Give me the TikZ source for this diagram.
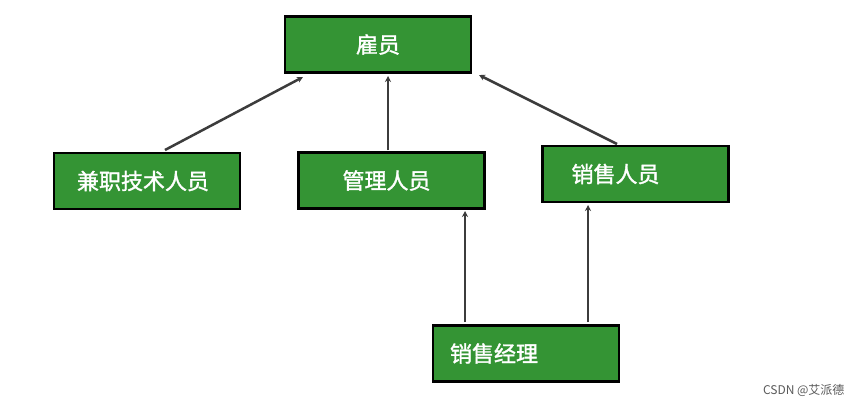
\documentclass[tikz,border=0pt]{standalone}
\usepackage{fontspec}
\newfontfamily\cjk{Noto Sans CJK SC}
\newfontfamily\cjkb[FakeBold=1.5]{Noto Sans CJK SC}
\usetikzlibrary{arrows.meta}
\begin{document}
\begin{tikzpicture}[x=1pt,y=-1pt,
  box/.style={draw=black,line width=2.5pt,fill={rgb,255:red,52;green,148;blue,52},text=white,font=\cjkb\fontsize{22}{22}\selectfont,minimum width=186pt,minimum height=56pt,inner sep=0pt},
  conn/.style={draw={rgb,255:red,60;green,60;blue,60},line width=2.5pt,-{Stealth[length=6pt,width=6pt]}}]
\useasboundingbox[fill=white] (0,0) rectangle (861,408);
\node[box] (gy) at (378,44.5) {雇员};
\node[box] (jz) at (147,181) {\hspace*{-8pt}兼职技术人员};
\node[box] (gl) at (391.5,180.5) {\hspace*{-10pt}管理人员};
\node[box] (xs) at (635.5,174) {\hspace*{-40pt}销售人员};
\node[box] (jl) at (526,353.5) {\hspace*{-64pt}销售经理};
\coordinate (a1) at (303,77); \coordinate (b1) at (165,150);
\coordinate (a2) at (388,76); \coordinate (b2) at (388,150);
\coordinate (a3) at (479,75); \coordinate (b3) at (617,144);
\coordinate (a4) at (465,211); \coordinate (b4) at (465,322);
\coordinate (a5) at (588,205); \coordinate (b5) at (588,322);
\draw[conn] (b1) -- (a1);
\draw[conn] (b2) -- (a2);
\draw[conn] (b3) -- (a3);
\draw[conn] (b4) -- (a4);
\draw[conn] (b5) -- (a5);
\node[font=\cjk\fontsize{12}{12}\selectfont,text={rgb,255:red,90;green,90;blue,90},anchor=east] (wm) at (848,390) {CSDN @艾派德};
\end{tikzpicture}
\end{document}
